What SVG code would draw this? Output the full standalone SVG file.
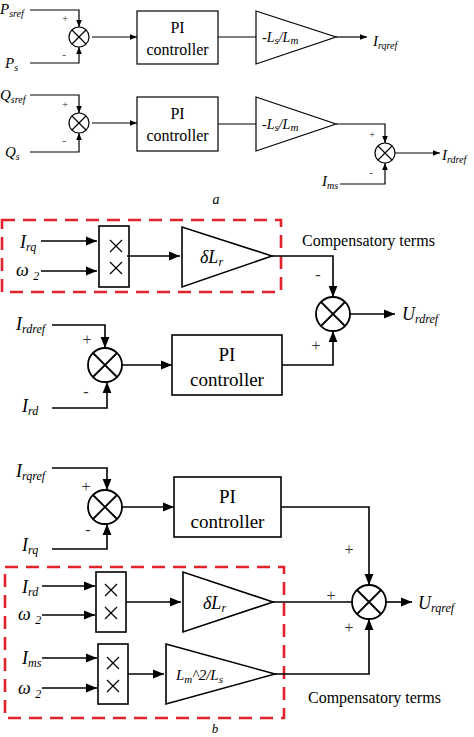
<svg xmlns="http://www.w3.org/2000/svg" width="474" height="737" viewBox="0 0 474 737" font-family="'Liberation Serif', serif">
<defs>
<marker id="ah" viewBox="0 0 10 10" refX="10" refY="5" markerWidth="7" markerHeight="7" markerUnits="userSpaceOnUse" orient="auto"><path d="M0,1 L10,5 L0,9 Z" fill="#000"/></marker>
<marker id="ahb" viewBox="0 0 10 10" refX="10" refY="5" markerWidth="11" markerHeight="11" markerUnits="userSpaceOnUse" orient="auto"><path d="M0,1 L10,5 L0,9 Z" fill="#000"/></marker>
</defs>
<style>
text{font-family:'Liberation Serif',serif}
.t{fill:#000}
.i{font-style:italic}
.s1{fill:none;stroke:#000;stroke-width:1.2}
.s2{fill:none;stroke:#000;stroke-width:1.6}
.c1{fill:none;stroke:#000;stroke-width:1.2}
.c2{fill:none;stroke:#000;stroke-width:1.8}
.red{fill:none;stroke:#e3232b;stroke-width:2.6;stroke-dasharray:13 8}
.sign{fill:#333}
</style>
<rect width="474" height="737" fill="#fff"/>

<!-- part a -->
<g id="sum_a1"><circle class="c1" cx="79" cy="37" r="10"/><path class="c1" d="M72,30 L86,44 M86,30 L72,44"/></g>
<g id="pi_a1"><rect class="s1" x="137" y="11" width="81" height="53"/><text class="t" x="177.5" y="33" font-size="16" text-anchor="middle">PI</text><text class="t" x="177.5" y="55" font-size="16" text-anchor="middle">controller</text></g>
<g id="gain_a1"><path class="s1" d="M256,11 L256,64 L336,37 Z"/><text class="t i" x="262" y="42" font-size="14">-L<tspan font-size="11" dy="2">s</tspan><tspan dy="-2">/L</tspan><tspan font-size="11" dy="2">m</tspan></text></g>
<g id="sum_a2"><circle class="c1" cx="79" cy="123" r="10"/><path class="c1" d="M72,116 L86,130 M86,116 L72,130"/></g>
<g id="pi_a2"><rect class="s1" x="137" y="97" width="81" height="54"/><text class="t" x="177.5" y="119" font-size="16" text-anchor="middle">PI</text><text class="t" x="177.5" y="141" font-size="16" text-anchor="middle">controller</text></g>
<g id="gain_a2"><path class="s1" d="M256,97 L256,151 L336,124 Z"/><text class="t i" x="262" y="129" font-size="14">-L<tspan font-size="11" dy="2">s</tspan><tspan dy="-2">/L</tspan><tspan font-size="11" dy="2">m</tspan></text></g>
<g id="sum_a3"><circle class="c1" cx="385" cy="153" r="10"/><path class="c1" d="M378,146 L392,160 M392,146 L378,160"/></g>

<g id="labels_a">
<text class="t i" x="0" y="14" font-size="15">P<tspan font-size="10" dy="3">sref</tspan></text>
<text class="t i" x="5" y="68" font-size="15">P<tspan font-size="10" dy="3">s</tspan></text>
<text class="t i" x="0" y="100" font-size="15">Q<tspan font-size="10" dy="3">sref</tspan></text>
<text class="t i" x="5" y="157" font-size="15">Q<tspan font-size="10" dy="3">s</tspan></text>
<text class="t i" x="373" y="46" font-size="15">I<tspan font-size="10" dy="3">rqref</tspan></text>
<text class="t i" x="442" y="160" font-size="15">I<tspan font-size="10" dy="3">rdref</tspan></text>
<text class="t i" x="322" y="186" font-size="15">I<tspan font-size="10" dy="3">ms</tspan></text>
<text class="sign" x="65" y="22" font-size="11" text-anchor="middle">+</text>
<text class="sign" x="64" y="58" font-size="11" text-anchor="middle">-</text>
<text class="sign" x="65" y="108" font-size="11" text-anchor="middle">+</text>
<text class="sign" x="64" y="144" font-size="11" text-anchor="middle">-</text>
<text class="sign" x="372" y="138" font-size="11" text-anchor="middle">+</text>
<text class="sign" x="371" y="176" font-size="11" text-anchor="middle">-</text>
<text class="t i" x="216" y="204" font-size="14" text-anchor="middle" fill="#333">a</text>
</g>

<!-- part b, upper -->
<rect class="red" x="2" y="220" width="279" height="72"/>
<g id="mul_b1"><rect class="s2" x="99" y="226" width="30" height="61"/><path class="s1" d="M110,240 L122,252 M122,240 L110,252 M110,262 L122,274 M122,262 L110,274"/></g>
<g id="gain_b1"><path class="s2" d="M182,227 L182,287 L272,256 Z"/><text class="t i" x="200" y="263" font-size="18">δL<tspan font-size="12" dy="3">r</tspan></text></g>
<g id="sum_b1"><circle class="c2" cx="333" cy="314" r="17"/><path class="c2" d="M321,302 L345,326 M345,302 L321,326"/></g>
<g id="pi_b1"><rect class="s2" x="172" y="335" width="110" height="60"/><text class="t" x="227" y="361" font-size="19" text-anchor="middle">PI</text><text class="t" x="227" y="386" font-size="19" text-anchor="middle">controller</text></g>
<g id="sum_b2"><circle class="c2" cx="105" cy="365" r="17"/><path class="c2" d="M93,353 L117,377 M117,353 L93,377"/></g>

<g id="labels_b1">
<text class="t i" x="20" y="248" font-size="18">I<tspan font-size="12" dy="3">rq</tspan></text>
<text class="t i" x="16" y="276" font-size="18">ω <tspan font-size="12" dy="4">2</tspan></text>
<text class="t" x="302" y="246" font-size="16">Compensatory terms</text>
<text class="t i" x="402" y="320" font-size="18">U<tspan font-size="12" dy="3">rdref</tspan></text>
<text class="t i" x="16" y="330" font-size="18">I<tspan font-size="12" dy="3">rdref</tspan></text>
<text class="t i" x="22" y="412" font-size="18">I<tspan font-size="12" dy="3">rd</tspan></text>
<text class="sign" x="318" y="280" font-size="16" text-anchor="middle">-</text>
<text class="sign" x="316" y="351" font-size="16" text-anchor="middle">+</text>
<text class="sign" x="87" y="345" font-size="16" text-anchor="middle">+</text>
<text class="sign" x="86" y="397" font-size="16" text-anchor="middle">-</text>
</g>

<!-- part b, lower -->
<g id="sum_b3"><circle class="c2" cx="105" cy="507" r="17"/><path class="c2" d="M93,495 L117,519 M117,495 L93,519"/></g>
<g id="pi_b2"><rect class="s2" x="174" y="477" width="107" height="60"/><text class="t" x="227.5" y="503" font-size="19" text-anchor="middle">PI</text><text class="t" x="227.5" y="528" font-size="19" text-anchor="middle">controller</text></g>
<rect class="red" x="5" y="567" width="279" height="151"/>
<g id="mul_b2"><rect class="s2" x="96" y="572" width="30" height="60"/><path class="s1" d="M105,584 L117,596 M117,584 L105,596 M105,607 L117,619 M117,607 L105,619"/></g>
<g id="gain_b2"><path class="s2" d="M183,572 L183,632 L273,602 Z"/><text class="t i" x="203" y="609" font-size="18">δL<tspan font-size="12" dy="3">r</tspan></text></g>
<g id="mul_b3"><rect class="s2" x="98" y="644" width="30" height="60"/><path class="s1" d="M107,657 L119,669 M119,657 L107,669 M107,680 L119,692 M119,680 L107,692"/></g>
<g id="gain_b3"><path class="s2" d="M166,644 L166,704 L275,674 Z"/><text class="t i" x="176" y="680" font-size="15">L<tspan font-size="11" dy="3">m</tspan><tspan dy="-3">^2/L</tspan><tspan font-size="11" dy="3">s</tspan></text></g>
<g id="sum_b4"><circle class="c2" cx="369" cy="602" r="17"/><path class="c2" d="M357,590 L381,614 M381,590 L357,614"/></g>

<g id="labels_b2">
<text class="t i" x="16" y="477" font-size="18">I<tspan font-size="12" dy="3">rqref</tspan></text>
<text class="t i" x="22" y="551" font-size="18">I<tspan font-size="12" dy="3">rq</tspan></text>
<text class="t i" x="22" y="593" font-size="18">I<tspan font-size="12" dy="3">rd</tspan></text>
<text class="t i" x="18" y="620" font-size="18">ω <tspan font-size="12" dy="4">2</tspan></text>
<text class="t i" x="22" y="664" font-size="18">I<tspan font-size="12" dy="3">ms</tspan></text>
<text class="t i" x="18" y="694" font-size="18">ω <tspan font-size="12" dy="4">2</tspan></text>
<text class="t i" x="418" y="609" font-size="18">U<tspan font-size="12" dy="3">rqref</tspan></text>
<text class="t" x="308" y="703" font-size="16">Compensatory terms</text>
<text class="sign" x="86" y="492" font-size="16" text-anchor="middle">+</text>
<text class="sign" x="88" y="535" font-size="16" text-anchor="middle">-</text>
<text class="sign" x="349" y="555" font-size="16" text-anchor="middle">+</text>
<text class="sign" x="331" y="601" font-size="16" text-anchor="middle">+</text>
<text class="sign" x="349" y="633" font-size="16" text-anchor="middle">+</text>
<text class="t i" x="215" y="733" font-size="13" text-anchor="middle" fill="#333">b</text>
</g>

<g id="connectors">
<path class="s1" d="M30,10 L79,10 L79,27" marker-end="url(#ah)"/>
<path class="s1" d="M30,63 L79,63 L79,47" marker-end="url(#ah)"/>
<path class="s1" d="M92,37 L137,37" marker-end="url(#ah)"/>
<path class="s1" d="M218,37 L256,37"/>
<path class="s1" d="M336,37 L367,37" marker-end="url(#ah)"/>
<path class="s1" d="M30,95 L79,95 L79,113" marker-end="url(#ah)"/>
<path class="s1" d="M30,152 L79,152 L79,133" marker-end="url(#ah)"/>
<path class="s1" d="M92,123 L137,123" marker-end="url(#ah)"/>
<path class="s1" d="M218,124 L256,124"/>
<path class="s1" d="M336,124 L385,124 L385,143" marker-end="url(#ah)"/>
<path class="s1" d="M340,184 L385,184 L385,163" marker-end="url(#ah)"/>
<path class="s1" d="M395,153 L440,153" marker-end="url(#ah)"/>

<path class="s2" d="M41,241 L97,241" marker-end="url(#ahb)"/>
<path class="s2" d="M41,271 L97,271" marker-end="url(#ahb)"/>
<path class="s2" d="M127,256 L180,256" marker-end="url(#ahb)"/>
<path class="s2" d="M272,256 L333,256 L333,297" marker-end="url(#ahb)"/>
<path class="s2" d="M350,314 L395,314" marker-end="url(#ahb)"/>
<path class="s2" d="M282,365 L333,365 L333,331" marker-end="url(#ahb)"/>
<path class="s2" d="M52,325 L105,325 L105,348" marker-end="url(#ahb)"/>
<path class="s2" d="M52,408 L107,408 L107,382" marker-end="url(#ahb)"/>
<path class="s2" d="M122,365 L172,365" marker-end="url(#ahb)"/>

<path class="s2" d="M52,468 L107,468 L107,490" marker-end="url(#ahb)"/>
<path class="s2" d="M52,549 L107,549 L107,524" marker-end="url(#ahb)"/>
<path class="s2" d="M122,507 L174,507" marker-end="url(#ahb)"/>
<path class="s2" d="M281,507 L369,507 L369,585" marker-end="url(#ahb)"/>
<path class="s2" d="M42,586 L95,586" marker-end="url(#ahb)"/>
<path class="s2" d="M42,615 L95,615" marker-end="url(#ahb)"/>
<path class="s2" d="M126,602 L181,602" marker-end="url(#ahb)"/>
<path class="s2" d="M273,602 L352,602"/>
<path class="s2" d="M42,658 L97,658" marker-end="url(#ahb)"/>
<path class="s2" d="M42,688 L97,688" marker-end="url(#ahb)"/>
<path class="s2" d="M128,674 L164,674" marker-end="url(#ahb)"/>
<path class="s2" d="M275,674 L369,674 L369,619" marker-end="url(#ahb)"/>
<path class="s2" d="M386,602 L412,602" marker-end="url(#ahb)"/>
</g>
</svg>
